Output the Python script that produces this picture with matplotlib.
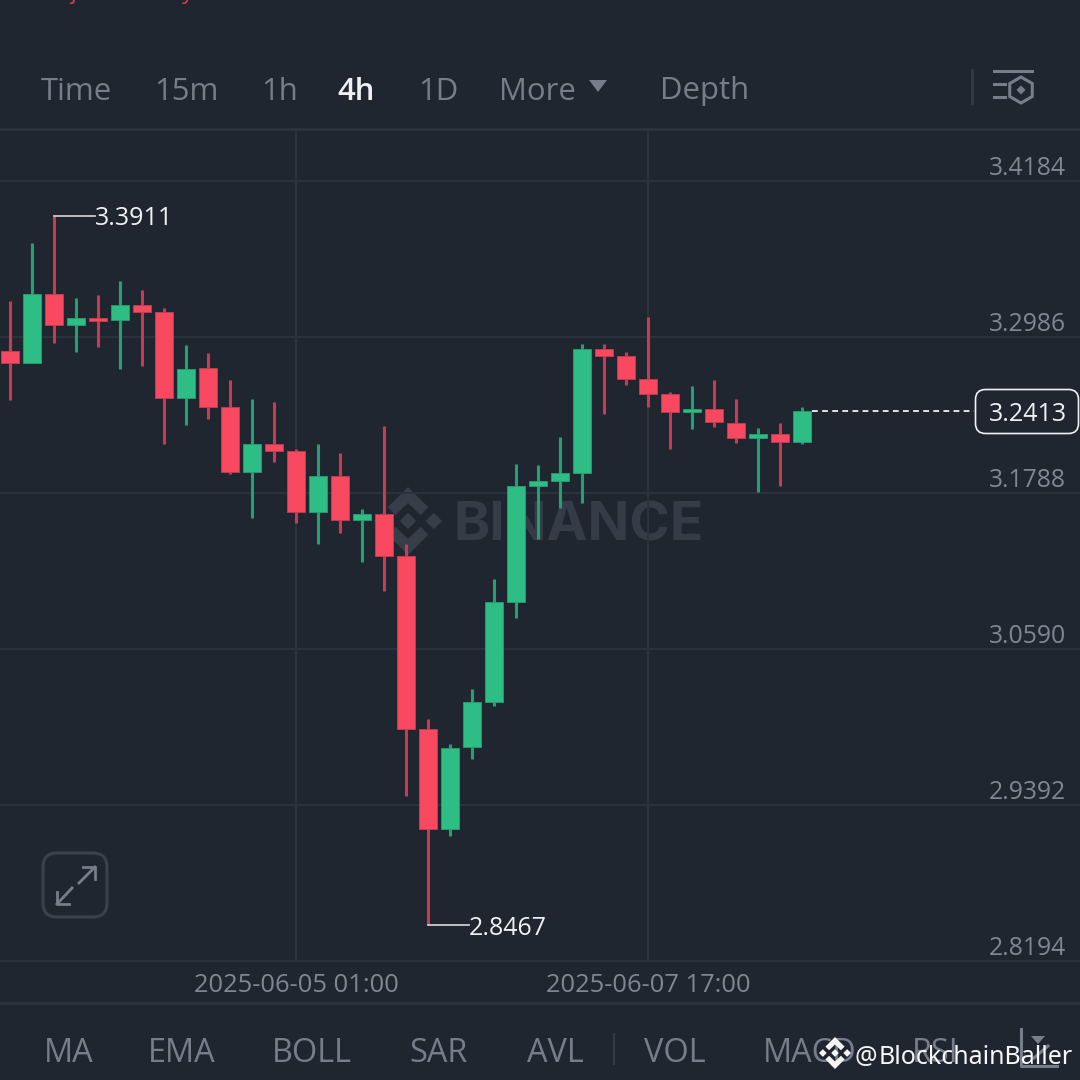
import matplotlib
matplotlib.use("Agg")
import matplotlib.pyplot as plt
from matplotlib.patches import FancyBboxPatch, Polygon, RegularPolygon

plt.rcParams["font.family"] = ["Open Sans", "DejaVu Sans"]

BG = "#1f2630"
GRID = "#2c333e"
RED = "#f84960"
GREEN = "#2ebd85"
RED_WICK = "#c93c50"
GREEN_WICK = "#25a070"
TAB = "#767e8b"
TICK = "#7f8794"
WHITE = "#f0f1f2"

# candles, left to right
opens = [3.2879, 3.2786, 3.3314, 3.3076, 3.3130, 3.3111, 3.3230, 3.3173, 3.2515, 3.2743,
         3.2448, 3.1949, 3.2162, 3.2108, 3.1637, 3.1916, 3.1578, 3.1621, 3.1300, 2.9974,
         2.9208, 2.9834, 3.0183, 3.0947, 3.1836, 3.1876, 3.1942, 3.2892, 3.2838, 3.2658,
         3.2543, 3.2405, 3.2431, 3.2326, 3.2208, 3.2239, 3.2180]
closes = [3.2786, 3.3314, 3.3076, 3.3130, 3.3107, 3.3230, 3.3173, 3.2515, 3.2740, 3.2448,
          3.1944, 3.2162, 3.2108, 3.1637, 3.1916, 3.1578, 3.1621, 3.1300, 2.9974, 2.9208,
          2.9831, 3.0183, 3.0947, 3.1839, 3.1876, 3.1942, 3.2892, 3.2838, 3.2658, 3.2543,
          3.2405, 3.2431, 3.2328, 3.2208, 3.2239, 3.2180, 3.2413]
highs = [3.3262, 3.3706, 3.3911, 3.3283, 3.3309, 3.3414, 3.3345, 3.3203, 3.2925, 3.2858,
         3.2656, 3.2505, 3.2485, 3.2124, 3.2162, 3.2090, 3.1663, 3.2303, 3.1392, 3.0053,
         2.9857, 3.0281, 3.1124, 3.2011, 3.2003, 3.2217, 3.2932, 3.2932, 3.2869, 3.3134,
         3.2561, 3.2610, 3.2654, 3.2505, 3.2285, 3.2326, 3.2446]
lows = [3.2502, 3.2786, 3.2935, 3.2865, 3.2909, 3.2735, 3.2758, 3.2159, 3.2305, 3.2354,
        3.1934, 3.1596, 3.2024, 3.1558, 3.1396, 3.1475, 3.1253, 3.1032, 2.9456, 2.8467,
        2.9152, 2.9741, 3.0148, 3.0823, 3.1431, 3.1674, 3.1706, 3.2389, 3.2612, 3.2448,
        3.2124, 3.2280, 3.2290, 3.2167, 3.1793, 3.1836, 3.2159]

price_ticks = [3.4184, 3.2986, 3.1788, 3.0590, 2.9392, 2.8194]
price_labels = ["3.4184", "3.2986", "3.1788", "3.0590", "2.9392", "2.8194"]
time_idx = [13, 29]
time_labels = ["2025-06-05 01:00", "2025-06-07 17:00"]
last_price = 3.2413
high_idx, high_price = 2, 3.3911
low_idx, low_price = 19, 2.8467

tabs = ["Time", "15m", "1h", "4h", "1D", "More", "Depth"]
tab_x = [41, 154, 261, 337, 418, 499, 660]
indicators = ["MA", "EMA", "BOLL", "SAR", "AVL", "VOL", "MACD", "RSI"]
indicator_x = [44, 148, 272, 409, 527, 644, 763, 912]


def binance_logo(ax, cx, cy, r, color, zorder=1):
    top = [(0, 1), (0.6, 0.4), (0.37, 0.17), (0, 0.53), (-0.37, 0.17), (-0.6, 0.4)]
    for sign in (1, -1):
        pts = [(cx + r * x, cy - sign * r * y) for x, y in top]
        ax.add_patch(Polygon(pts, closed=True, fc=color, ec="none", zorder=zorder))
    for dx in (-0.76, 0, 0.76):
        ax.add_patch(RegularPolygon((cx + dx * r, cy), 4, radius=0.24 * r, fc=color, ec="none", zorder=zorder))


fig = plt.figure(figsize=(10.8, 10.8), dpi=100, facecolor=BG)

# chrome goes on a pixel axes underneath the price axes
bg = fig.add_axes([0, 0, 1, 1], zorder=1)
bg.set_xlim(0, 1080)
bg.set_ylim(1080, 0)
bg.axis("off")

ax = fig.add_axes([0, 0, 1, 1], zorder=2)
ax.patch.set_alpha(0)
ax.set_xlim(-10 / 22, 1070 / 22)
ax.set_ylim(2.7278, 3.5572)
ax.axis("off")

# grid
for p in price_ticks:
    ax.axhline(p, color=GRID, lw=1.4, zorder=1)
for i in time_idx:
    ax.plot([i, i], [price_ticks[-1], 3.4584], color=GRID, lw=1.4, zorder=1)

# watermark
binance_logo(bg, 408, 521, 34, "#373e4a")
bg.text(453, 521, "BINANCE", color="#353c48", fontsize=39.5, fontweight="bold", ha="left", va="center_baseline",
        family=["Inter"])

# candles
for i in range(len(opens)):
    up = closes[i] >= opens[i]
    ax.vlines(i, lows[i], highs[i], color=GREEN_WICK if up else RED_WICK, lw=2.2, zorder=3)
    ax.bar(i, abs(closes[i] - opens[i]), bottom=min(opens[i], closes[i]), width=0.85,
           color=GREEN if up else RED, edgecolor=GREEN_WICK if up else RED_WICK, lw=0.6, zorder=4)

# tick labels
for p, label in zip(price_ticks, price_labels):
    ax.annotate(label, (1066 / 22 - 10 / 22, p), xytext=(0, 15), textcoords="offset pixels",
                color=TICK, fontsize=17.8, ha="right", va="center_baseline")
for i, label in zip(time_idx, time_labels):
    ax.annotate(label, (i, price_ticks[-1]), xytext=(0, -22), textcoords="offset pixels",
                color=TICK, fontsize=18.4, ha="center", va="center_baseline")

# high / low markers
ax.plot([high_idx, high_idx + 41 / 22], [high_price, high_price], color="#c9cbce", lw=1.3, zorder=5)
ax.annotate("3.3911", (high_idx + 41 / 22, high_price), xytext=(0, 1), textcoords="offset pixels",
            color=WHITE, fontsize=18, ha="left", va="center_baseline")
ax.plot([low_idx, low_idx + 41 / 22], [low_price, low_price], color="#c9cbce", lw=1.3, zorder=5)
ax.annotate("2.8467", (low_idx + 41 / 22, low_price), xytext=(0, 0), textcoords="offset pixels",
            color=WHITE, fontsize=18, ha="left", va="center_baseline")

# last price
ax.plot([36.45, 43.8], [last_price, last_price], color=WHITE, lw=1.3, dashes=(3.2, 2.4), zorder=5)
bg.add_patch(FancyBboxPatch((975.5, 389.5), 103, 44, boxstyle="round,pad=0,rounding_size=10",
                            fc=BG, ec=WHITE, lw=1.2, zorder=3))
bg.text(1028, 411.5, "3.2413", color=WHITE, fontsize=18, ha="center", va="center_baseline", zorder=4)

# top tabs
for name, x in zip(tabs, tab_x):
    active = name == "4h"
    bg.text(x, 88, name, color="#eef0f2" if active else TAB, fontsize=22.4,
            fontweight="semibold" if active else "normal", ha="left", va="center_baseline")
bg.add_patch(Polygon([(589, 80), (607, 80), (598, 92)], closed=True, fc=TAB, ec="none"))
bg.plot([0, 1080], [129, 129], color=GRID, lw=2)
bg.plot([0, 1080], [1003, 1003], color=GRID, lw=2)
bg.plot([972, 972], [70, 103], color="#343b46", lw=2)

# settings icon
bg.plot([994, 1032], [71, 71], color=TAB, lw=2.2)
bg.plot([994, 1005], [84, 84], color=TAB, lw=2.2)
bg.plot([994, 1005], [97, 97], color=TAB, lw=2.2)
bg.add_patch(RegularPolygon((1021, 90), 6, radius=13, fc="none", ec=TAB, lw=2.2))
bg.add_patch(RegularPolygon((1021, 90), 4, radius=4.5, fc=TAB, ec="none"))

# expand button
bg.add_patch(FancyBboxPatch((43, 853), 64, 64, boxstyle="round,pad=0,rounding_size=14", fc="none", ec="#3a414d", lw=2.2))
bg.plot([79, 95], [883, 867], color=TAB, lw=2)
bg.plot([57, 72], [904, 888], color=TAB, lw=2)
bg.plot([83, 95, 95], [867, 867, 879], color=TAB, lw=2)
bg.plot([57, 57, 69], [892, 904, 904], color=TAB, lw=2)

# bottom indicator row
for name, x in zip(indicators, indicator_x):
    bg.text(x, 1050, name, color=TAB, fontsize=23.4, ha="left", va="center_baseline")
bg.plot([614, 614], [1034, 1064], color="#343b46", lw=1.5)
bg.plot([1021, 1021, 1057], [1029, 1066, 1066], color=TAB, lw=2.2)
bg.plot([1034, 1048], [1058, 1046], color=TAB, lw=2.2)
bg.add_patch(Polygon([(1031, 1036), (1045, 1036), (1038, 1044)], closed=True, fc=TAB, ec="none"))

# clipped text at the very top
bg.text(73, -7, "j", color=RED, fontsize=16, ha="center", va="center", alpha=0.8)
bg.text(187, -7, "y", color=RED, fontsize=16, ha="center", va="center", alpha=0.8)

# post watermark
binance_logo(bg, 835, 1053, 16, "#f4f4f5", zorder=6)
bg.text(855, 1054, "@", color="#f4f4f5", fontsize=18, family=["Noto Sans"], ha="left", va="center_baseline", zorder=6)
bg.text(879, 1054, "BlockchainBaller", color="#f8f8f8", fontsize=18, family=["Noto Sans"], fontweight="medium",
        ha="left", va="center_baseline", zorder=6)

fig.savefig("out.png", dpi=100, facecolor=BG)
plt.close(fig)
